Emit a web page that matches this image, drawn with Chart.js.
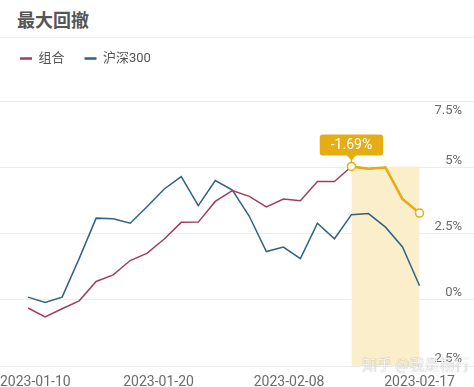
<!DOCTYPE html>
<html>
<head>
<meta charset="utf-8">
<script src="https://cdn.jsdelivr.net/npm/chart.js@4.4.0/dist/chart.umd.min.js"></script>
<style>
  html, body { margin: 0; padding: 0; background: #fff; }
  body { width: 474px; height: 387px; position: relative; overflow: hidden; }
  #title { position: absolute; left: 17px; top: 10px; font: bold 18px/18px "Noto Sans CJK SC", sans-serif; color: #555; }
  #sep { position: absolute; left: 0; top: 37px; width: 474px; height: 1px; background: #f0f0f0; }
  #chart { position: absolute; left: 0; top: 32px; }
  #mark { position: absolute; left: 362px; top: 355px; font: 15px/18px "Noto Sans CJK SC", sans-serif;
          color: rgba(255,255,255,0.9); text-shadow: 0 0 1px rgba(0,0,0,0.45); z-index: 2; }
</style>
</head>
<body>
<div id="title">最大回撤</div>
<div id="sep"></div>
<canvas id="chart" width="474" height="355"></canvas>
<div id="mark">知乎 @我是杨行</div>
<script>
// trading days
const dates = [
  "2023-01-10","2023-01-11","2023-01-12","2023-01-13","2023-01-16","2023-01-17",
  "2023-01-18","2023-01-19","2023-01-20","2023-01-30","2023-01-31","2023-02-01",
  "2023-02-02","2023-02-03","2023-02-06","2023-02-07","2023-02-08","2023-02-09",
  "2023-02-10","2023-02-13","2023-02-14","2023-02-15","2023-02-16","2023-02-17"
];
// cumulative return, %
const portfolio = [-0.31,-0.65,-0.34,-0.04,0.69,0.94,1.48,1.76,2.29,2.92,2.93,3.71,
                   4.12,3.9,3.5,3.8,3.74,4.46,4.46,5.03,4.94,4.99,3.8,3.27];
const csi300 = [0.1,-0.1,0.1,1.55,3.08,3.06,2.89,3.52,4.18,4.65,3.55,4.5,
                4.14,3.15,1.82,1.99,1.55,2.89,2.3,3.21,3.25,2.74,1.99,0.53];
const xTickLabels = ["2023-01-10","2023-01-20","2023-02-08","2023-02-17"];
// max drawdown window (indexes into dates)
const ddStart = 19;
const ddEnd = 23;
const ddLabel = "-1.69%";

const RED = "#a03e5e";
const BLUE = "#2f6283";
const GOLD = "#e5ad13";
const FONT = "Roboto, 'Noto Sans CJK SC', sans-serif";

const pts = arr => arr.map((v, i) => ({ x: i, y: v }));
const ddIdx = dates.map((d, i) => i).filter(i => i >= ddStart && i <= ddEnd);

const badge = {
  id: "badge",
  afterDatasetsDraw(chart){
    const p = chart.getDatasetMeta(0).data[0];
    const ctx = chart.ctx;
    ctx.save();
    ctx.font = "14px " + FONT;
    const w = ctx.measureText(ddLabel).width + 22, h = 21;
    const bottom = p.y - 11;
    ctx.fillStyle = GOLD;
    ctx.beginPath();
    ctx.roundRect(p.x - w / 2, bottom - h, w, h, 3);
    ctx.fill();
    ctx.beginPath();
    ctx.moveTo(p.x - 5, bottom - 0.5);
    ctx.lineTo(p.x + 5, bottom - 0.5);
    ctx.lineTo(p.x, bottom + 5);
    ctx.closePath();
    ctx.fill();
    ctx.strokeStyle = GOLD;
    ctx.lineWidth = 1.5;
    ctx.beginPath();
    ctx.moveTo(p.x, bottom + 4);
    ctx.lineTo(p.x, p.y - 4);
    ctx.stroke();
    ctx.fillStyle = "#fff";
    ctx.textAlign = "center";
    ctx.textBaseline = "middle";
    ctx.fillText(ddLabel, p.x, bottom - h / 2 + 0.5);
    ctx.restore();
  }
};

const legendHeight = {
  id: "legendHeight",
  beforeInit(chart){
    const fit = chart.legend.fit;
    chart.legend.fit = function(){ fit.bind(chart.legend)(); this.height = 69; };
  }
};

new Chart(document.getElementById("chart"), {
  type: "line",
  data: {
    datasets: [
      {
        label: "drawdown",
        data: ddIdx.map(i => ({ x: i, y: portfolio[i] })),
        borderColor: GOLD, borderWidth: 2.5, borderJoinStyle: "round",
        pointRadius: c => (c.dataIndex === 0 || c.dataIndex === ddIdx.length - 1) ? 4 : 0,
        pointBackgroundColor: "#fff", pointBorderColor: GOLD, pointBorderWidth: 1.5,
        order: 0
      },
      { label: "组合", data: pts(portfolio), borderColor: RED, borderWidth: 1.5, pointRadius: 0, order: 1 },
      { label: "沪深300", data: pts(csi300), borderColor: BLUE, borderWidth: 1.5, pointRadius: 0, order: 2 },
      {
        label: "shade",
        data: ddIdx.map(i => ({ x: i, y: portfolio[ddStart] })),
        borderWidth: 0, pointRadius: 0, fill: "start",
        backgroundColor: "#fbefcb", order: 3
      }
    ]
  },
  options: {
    responsive: false,
    animation: false,
    devicePixelRatio: 1,
    layout: { padding: 0, autoPadding: false },
    plugins: {
      tooltip: { enabled: false },
      legend: {
        position: "top",
        align: "start",
        labels: {
          filter: item => item.text === "组合" || item.text === "沪深300",
          usePointStyle: true,
          pointStyleWidth: 12,
          boxHeight: 13,
          padding: 20,
          color: "#555",
          font: { family: FONT, size: 13 },
          generateLabels(chart){
            return Chart.defaults.plugins.legend.labels.generateLabels(chart)
              .map(l => Object.assign(l, { pointStyle: "line", lineWidth: 2.5 }));
          }
        }
      }
    },
    scales: {
      x: {
        type: "linear",
        min: -1.65,
        max: 26.2,
        grid: { display: false },
        border: { display: false },
        ticks: {
          color: "#6b6b6b", padding: 0, maxRotation: 0, autoSkip: false,
          font: { family: FONT, size: 14 },
          callback: (v, i) => xTickLabels[i]
        },
        afterBuildTicks(scale){
          const last = dates.length - 1, k = xTickLabels.length - 1;
          const ctx = scale.ctx;
          ctx.save();
          ctx.font = "14px " + FONT;
          const half = ctx.measureText(xTickLabels[0]).width / 2;
          ctx.restore();
          const lo = scale.min + half * (scale.max - scale.min) / scale.width;
          scale.ticks = xTickLabels.map((_, i) => ({ value: Math.max(i * last / k, lo) }));
        },
        afterFit(scale){ scale.height = 21; scale.paddingLeft = 0; scale.paddingRight = 0; }
      },
      y: {
        position: "right",
        min: -2.5,
        max: 7.5,
        grid: { color: "#ededed", drawTicks: false },
        border: { display: false },
        ticks: {
          stepSize: 2.5, mirror: true, padding: -12, labelOffset: -7,
          color: "#6b6b6b",
          font: { family: FONT, size: 13, lineHeight: 1.3 },
          callback: v => v === 7.5 ? ["", "", v + "%"] : v + "%"
        },
        afterFit(scale){ scale.width = 0; scale.paddingTop = 0; scale.paddingBottom = 0; }
      }
    }
  },
  plugins: [badge, legendHeight]
});
</script>
</body>
</html>
